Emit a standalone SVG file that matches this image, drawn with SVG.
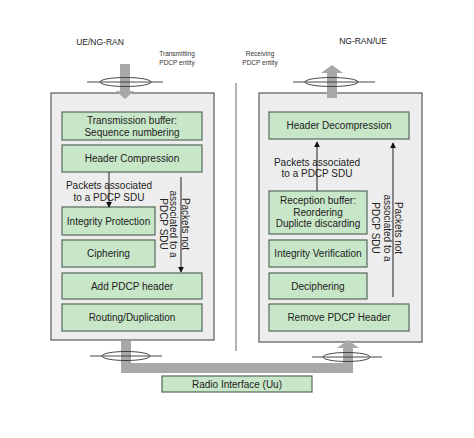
<svg xmlns="http://www.w3.org/2000/svg" width="474" height="438" viewBox="0 0 474 438">
<defs>
<style>
.outer{fill:#ededed;stroke:#666;stroke-width:1.3}
.blk{fill:#c8e6c8;stroke:#56685a;stroke-width:1.2}
.t{font-family:"Liberation Sans",Arial,sans-serif;font-size:10px;fill:#222;text-anchor:middle}
.s{font-family:"Liberation Sans",Arial,sans-serif;font-size:6.5px;fill:#333;text-anchor:middle}
.h{font-family:"Liberation Sans",Arial,sans-serif;font-size:8.5px;fill:#222;text-anchor:middle}
.pipe{fill:#a8a8a8}
.ring{fill:none;stroke:#333;stroke-width:0.9}
.ln{stroke:#222;stroke-width:1;fill:none}
</style>
<marker id="ah" viewBox="0 0 8 8" refX="7" refY="4" markerWidth="6" markerHeight="6" markerUnits="userSpaceOnUse" orient="auto">
<path d="M0,0 L8,4 L0,8 Z" fill="#111"/>
</marker>
</defs>
<rect width="474" height="438" fill="#fff"/>

<g id="labels">
<text class="h" x="100" y="45">UE/NG-RAN</text>
<text class="h" x="363" y="44">NG-RAN/UE</text>
<text class="s" x="177" y="56">Transmitting</text>
<text class="s" x="177" y="65">PDCP  entity</text>
<text class="s" x="260" y="56">Receiving</text>
<text class="s" x="260" y="65">PDCP  entity</text>
</g>

<g id="divider"><line x1="236" y1="83" x2="236" y2="351" stroke="#666" stroke-width="1"/></g>

<g id="tx-entity">
<rect class="outer" x="51" y="93" width="163" height="247"/>
</g>
<g id="rx-entity">
<rect class="outer" x="259" y="93" width="163" height="249"/>
</g>

<g id="pipes">
<polygon class="pipe" points="120,64 130,64 130,91 134,91 125,99 116,91 120,91"/>
<polygon class="pipe" points="327,98 337,98 337,73 343,73 332,65 321,73 327,73"/>
<polygon class="pipe" points="121,341 131,341 131,363 343,363 343,348 337,348 348,340 359,348 353,348 353,373 121,373"/>
<ellipse class="ring" cx="125.5" cy="82" rx="25.5" ry="4.5"/>
<line class="ring" x1="87" y1="82" x2="163" y2="82"/>
<ellipse class="ring" cx="331.5" cy="82" rx="26.5" ry="4.5"/>
<line class="ring" x1="293" y1="82" x2="375" y2="82"/>
<ellipse class="ring" cx="126" cy="356" rx="24" ry="4.5"/>
<line class="ring" x1="90" y1="356" x2="162" y2="356"/>
<ellipse class="ring" cx="346.5" cy="357" rx="23.5" ry="4.5"/>
<line class="ring" x1="312" y1="357" x2="382" y2="357"/>
</g>

<g id="tx-buffer"><rect class="blk" x="62" y="112" width="140" height="28"/>
<text class="t" x="132" y="123.5">Transmission buffer:</text><text class="t" x="132" y="135.5">Sequence numbering</text></g>
<g id="header-compression"><rect class="blk" x="62" y="145" width="140" height="27"/>
<text class="t" x="132" y="161.5">Header Compression</text></g>
<g id="integrity-protection"><rect class="blk" x="62" y="207" width="93" height="28"/>
<text class="t" x="108.5" y="224.5">Integrity Protection</text></g>
<g id="ciphering"><rect class="blk" x="62" y="240" width="93" height="27"/>
<text class="t" x="108.5" y="256.5">Ciphering</text></g>
<g id="add-header"><rect class="blk" x="62" y="273" width="140" height="26"/>
<text class="t" x="132" y="289.5">Add PDCP header</text></g>
<g id="routing"><rect class="blk" x="62" y="304" width="140" height="27"/>
<text class="t" x="132" y="320.5">Routing/Duplication</text></g>

<g id="header-decompression"><rect class="blk" x="269" y="112" width="140" height="27"/>
<text class="t" x="339" y="128.5">Header Decompression</text></g>
<g id="rx-buffer"><rect class="blk" x="269" y="191" width="98" height="43"/>
<text class="t" x="318" y="203.5">Reception buffer:</text><text class="t" x="318" y="215.5">Reordering</text><text class="t" x="318" y="226.5">Duplicte discarding</text></g>
<g id="integrity-verification"><rect class="blk" x="269" y="240" width="98" height="27"/>
<text class="t" x="318" y="256.5">Integrity Verification</text></g>
<g id="deciphering"><rect class="blk" x="269" y="273" width="98" height="26"/>
<text class="t" x="318" y="289.5">Deciphering</text></g>
<g id="remove-header"><rect class="blk" x="269" y="304" width="140" height="27"/>
<text class="t" x="339" y="320.5">Remove PDCP Header</text></g>

<g id="radio-interface"><rect class="blk" x="162" y="376" width="150" height="16"/>
<text class="t" x="237" y="387.5">Radio Interface (Uu)</text></g>

<g id="connectors">
<line class="ln" x1="109" y1="172" x2="109" y2="207" marker-end="url(#ah)"/>
<line class="ln" x1="181" y1="177" x2="181" y2="272" marker-end="url(#ah)"/>
<line class="ln" x1="317" y1="191" x2="317" y2="142" marker-end="url(#ah)"/>
<line class="ln" x1="393" y1="297" x2="393" y2="143" marker-end="url(#ah)"/>
</g>

<g id="connector-labels">
<text class="t" x="109" y="188.5">Packets associated</text>
<text class="t" x="109" y="200.5">to a PDCP SDU</text>
<text class="t" transform="translate(182,224) rotate(90)">Packets not</text>
<text class="t" transform="translate(170,224) rotate(90)">associated to a</text>
<text class="t" transform="translate(160,224) rotate(90)">PDCP SDU</text>
<text class="t" x="317" y="165.5">Packets associated</text>
<text class="t" x="317" y="176.5">to a PDCP SDU</text>
<text class="t" transform="translate(395,228) rotate(90)">Packets not</text>
<text class="t" transform="translate(384,228) rotate(90)">associated to a</text>
<text class="t" transform="translate(372,228) rotate(90)">PDCP SDU</text>
</g>
</svg>
